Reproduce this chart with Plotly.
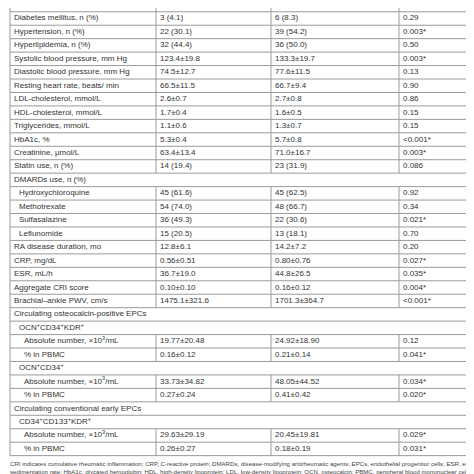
import plotly.graph_objects as go

# row labels, indent level, section flag
labels = ["Diabetes mellitus, n (%)", "Hypertension, n (%)", "Hyperlipidemia, n (%)",
          "Systolic blood pressure, mm Hg", "Diastolic blood pressure, mm Hg",
          "Resting heart rate, beats/ min", "LDL-cholesterol, mmol/L", "HDL-cholesterol, mmol/L",
          "Triglycerides, mmol/L", "HbA1c, %", "Creatinine, μmol/L", "Statin use, n (%)",
          "DMARDs use, n (%)", "Hydroxychloroquine", "Methotrexate", "Sulfasalazine", "Leflunomide",
          "RA disease duration, mo", "CRP, mg/dL", "ESR, mL/h", "Aggregate CRI score",
          "Brachial–ankle PWV, cm/s", "Circulating osteocalcin-positive EPCs",
          "OCN<sup>+</sup>CD34<sup>+</sup>KDR<sup>+</sup>",
          "Absolute number, ×10<sup>3</sup>/mL", "% in PBMC",
          "OCN<sup>+</sup>CD34<sup>+</sup>",
          "Absolute number, ×10<sup>3</sup>/mL", "% in PBMC",
          "Circulating conventional early EPCs",
          "CD34<sup>+</sup>CD133<sup>+</sup>KDR<sup>+</sup>",
          "Absolute number, ×10<sup>3</sup>/mL", "% in PBMC"]
indent = [0]*13 + [1]*4 + [0]*6 + [1, 2, 2, 1, 2, 2, 0, 1, 2, 2]
group1 = ["3 (4.1)", "22 (30.1)", "32 (44.4)", "123.4±19.8", "74.5±12.7", "66.5±11.5",
          "2.6±0.7", "1.7±0.4", "1.1±0.6", "5.3±0.4", "63.4±13.4", "14 (19.4)", "",
          "45 (61.6)", "54 (74.0)", "36 (49.3)", "15 (20.5)", "12.8±6.1", "0.56±0.51",
          "36.7±19.0", "0.10±0.10", "1475.1±321.6", "", "", "19.77±20.48", "0.16±0.12",
          "", "33.73±34.82", "0.27±0.24", "", "", "29.63±29.19", "0.26±0.27"]
group2 = ["6 (8.3)", "39 (54.2)", "36 (50.0)", "133.3±19.7", "77.6±11.5", "66.7±9.4",
          "2.7±0.8", "1.6±0.5", "1.3±0.7", "5.7±0.8", "71.0±16.7", "23 (31.9)", "",
          "45 (62.5)", "48 (66.7)", "22 (30.6)", "13 (18.1)", "14.2±7.2", "0.80±0.76",
          "44.8±26.5", "0.16±0.12", "1701.3±364.7", "", "", "24.92±18.90", "0.21±0.14",
          "", "48.05±44.52", "0.41±0.42", "", "", "20.45±19.81", "0.18±0.19"]
pvals = ["0.29", "0.003*", "0.50", "0.003*", "0.13", "0.90", "0.86", "0.15", "0.15",
         "<0.001*", "0.003*", "0.086", "", "0.92", "0.34", "0.021*", "0.70", "0.20",
         "0.027*", "0.035*", "0.004*", "<0.001*", "", "", "0.12", "0.041*", "",
         "0.034*", "0.020*", "", "", "0.029*", "0.031*"]
footnote = ("CRI indicates cumulative rheumatic inflammation; CRP, C-reactive protein; DMARDs, disease-modifying antirheumatic agents; EPCs, endothelial progenitor cells; ESR, erythrocyte<br>"
            "sedimentation rate; HbA1c, glycated hemoglobin; HDL, high-density lipoprotein; LDL, low-density lipoprotein; OCN, osteocalcin; PBMC, peripheral blood mononuclear cell; PWV, pulse-wave")

rows = list(range(len(labels)))
section = [g == "" and p == "" for g, p in zip(group1, pvals)]
font = dict(family="Liberation Sans Narrow, Arial Narrow, Liberation Sans, sans-serif", size=8, color="#333")
col_x = [2, 148, 263, 391, 470]

fig = go.Figure()
fig.add_trace(go.Scatter(x=[6 + 5 * i for i in indent], y=rows, text=labels, mode="text",
                         textposition="middle right", textfont=font, hoverinfo="skip"))
for cx, vals in zip(col_x[1:4], [group1, group2, pvals]):
    fig.add_trace(go.Scatter(x=[cx + 4] * len(vals), y=rows, text=vals, mode="text",
                             textposition="middle right", textfont=font, hoverinfo="skip"))

line = dict(color="#9a9a9a", width=1)
shapes = []
for r in [-1] + rows:
    shapes.append(dict(type="line", x0=col_x[0], x1=col_x[-1], y0=r + 0.5, y1=r + 0.5, line=line))
shapes.append(dict(type="line", x0=col_x[0], x1=col_x[-1], y0=-1, y1=-1, line=line))
for r in [-1] + rows:
    xs = [col_x[0], col_x[-1]] if (r >= 0 and section[r]) else col_x
    for cx in xs:
        shapes.append(dict(type="line", x0=cx, x1=cx, y0=r - 0.5, y1=r + 0.5, line=line))

fig.update_layout(
    width=474, height=474, margin=dict(l=0, r=0, t=0, b=0),
    paper_bgcolor="white", plot_bgcolor="white", showlegend=False, shapes=shapes,
    xaxis=dict(range=[0, 474], visible=False, fixedrange=True),
    yaxis=dict(range=[34.46, -0.78], visible=False, fixedrange=True),
    annotations=[dict(text=footnote, x=0, y=1 - 450 / 474, xref="paper", yref="paper",
                      xanchor="left", yanchor="top", showarrow=False, align="left",
                      font=dict(family=font["family"], size=6.1, color="#444"))],
)
fig.write_html("out.html")
